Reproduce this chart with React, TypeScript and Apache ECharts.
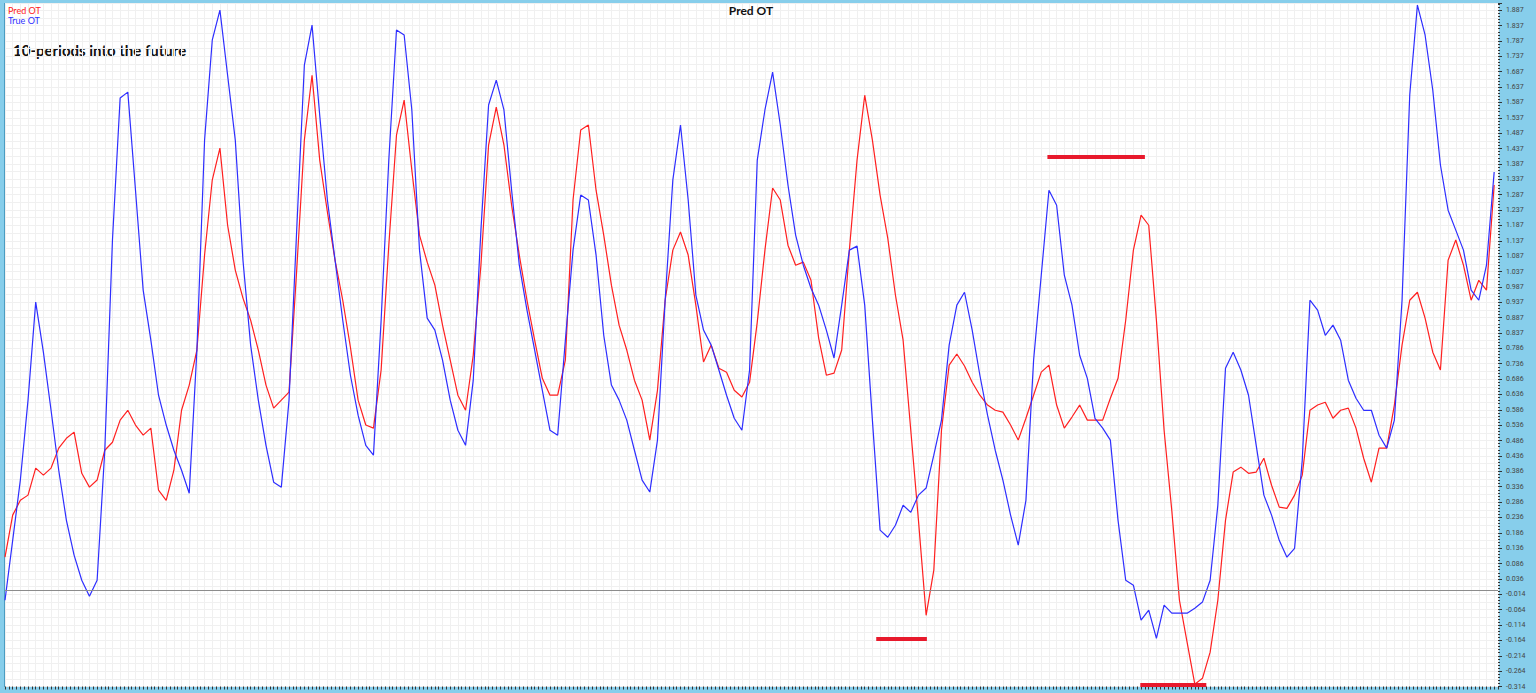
import React, { useEffect, useRef } from "react";
import * as echarts from "echarts";

const trueOT = [
  -0.033, 0.162, 0.358, 0.618, 0.937, 0.774, 0.585, 0.39, 0.227, 0.114,
  0.032, -0.02, 0.032, 0.455, 1.139, 1.601, 1.62, 1.301, 0.976, 0.813,
  0.634, 0.537, 0.455, 0.39, 0.315, 0.781, 1.464, 1.789, 1.887, 1.675,
  1.464, 1.073, 0.797, 0.618, 0.471, 0.351, 0.335, 0.618, 1.171, 1.708,
  1.838, 1.545, 1.269, 1.073, 0.878, 0.699, 0.569, 0.471, 0.439, 0.878,
  1.399, 1.822, 1.806, 1.562, 1.106, 0.885, 0.846, 0.748, 0.618, 0.52,
  0.471, 0.683, 1.171, 1.578, 1.659, 1.562, 1.301, 1.057, 0.911, 0.781,
  0.65, 0.52, 0.504, 0.813, 1.106, 1.285, 1.269, 1.09, 0.829, 0.667,
  0.618, 0.553, 0.455, 0.358, 0.319, 0.488, 0.943, 1.334, 1.513, 1.269,
  0.96, 0.846, 0.797, 0.716, 0.634, 0.559, 0.52, 0.716, 1.399, 1.562,
  1.685, 1.513, 1.318, 1.155, 1.057, 0.982, 0.927, 0.846, 0.755, 0.927,
  1.106, 1.119, 0.927, 0.553, 0.195, 0.172, 0.211, 0.276, 0.253, 0.309,
  0.332, 0.439, 0.553, 0.797, 0.927, 0.969, 0.846, 0.699, 0.569, 0.455,
  0.358, 0.244, 0.146, 0.292, 0.748, 1.025, 1.301, 1.252, 1.025, 0.927,
  0.764, 0.689, 0.559, 0.527, 0.488, 0.227, 0.032, 0.016, -0.098, -0.065,
  -0.157, -0.049, -0.075, -0.075, -0.075, -0.059, -0.039, 0.032, 0.276, 0.722,
  0.774, 0.716, 0.634, 0.471, 0.309, 0.244, 0.162, 0.107, 0.136, 0.423,
  0.943, 0.911, 0.829, 0.862, 0.813, 0.683, 0.624, 0.585, 0.585, 0.504,
  0.462, 0.553, 0.943, 1.61, 1.903, 1.806, 1.627, 1.383, 1.236, 1.171,
  1.106, 0.976, 0.943, 1.057, 1.36,
];

const predOT = [
  0.107, 0.244, 0.292, 0.309, 0.397, 0.374, 0.397, 0.462, 0.494, 0.514,
  0.38, 0.335, 0.358, 0.455, 0.481, 0.553, 0.585, 0.537, 0.504, 0.527,
  0.325, 0.292, 0.39, 0.585, 0.667, 0.781, 1.09, 1.334, 1.438, 1.187,
  1.041, 0.95, 0.878, 0.781, 0.667, 0.592, 0.618, 0.644, 1.041, 1.464,
  1.675, 1.399, 1.23, 1.073, 0.943, 0.79, 0.618, 0.537, 0.527, 0.716,
  1.122, 1.48, 1.594, 1.366, 1.155, 1.067, 0.992, 0.862, 0.748, 0.634,
  0.585, 0.764, 1.057, 1.448, 1.571, 1.448, 1.252, 1.09, 0.943, 0.813,
  0.689, 0.634, 0.634, 0.748, 1.269, 1.497, 1.513, 1.301, 1.155, 0.992,
  0.862, 0.781, 0.683, 0.618, 0.488, 0.65, 0.943, 1.106, 1.165, 1.09,
  0.927, 0.742, 0.797, 0.722, 0.709, 0.65, 0.628, 0.676, 0.872, 1.106,
  1.308, 1.269, 1.122, 1.057, 1.067, 1.008, 0.82, 0.699, 0.706, 0.781,
  1.106, 1.399, 1.61, 1.464, 1.285, 1.145, 0.96, 0.813, 0.52, 0.227,
  -0.082, 0.065, 0.52, 0.732, 0.768, 0.729, 0.676, 0.634, 0.602, 0.585,
  0.579, 0.537, 0.488, 0.559, 0.634, 0.709, 0.732, 0.602, 0.527, 0.563,
  0.602, 0.553, 0.553, 0.553, 0.624, 0.689, 0.878, 1.106, 1.22, 1.187,
  0.878, 0.52, 0.26, -0.033, -0.17, -0.306, -0.287, -0.202, -0.033, 0.227,
  0.384, 0.4, 0.38, 0.384, 0.429, 0.341, 0.27, 0.266, 0.309, 0.374,
  0.585, 0.602, 0.611, 0.559, 0.585, 0.592, 0.527, 0.429, 0.351, 0.462,
  0.462, 0.602, 0.797, 0.943, 0.969, 0.885, 0.774, 0.716, 1.073, 1.139,
  1.057, 0.943, 1.008, 0.976, 1.318,
];

const yTickLabels = [
  "-0.314", "-0.264", "-0.214", "-0.164", "-0.114", "-0.064", "-0.014", "0.036", "0.086",
  "0.136", "0.186", "0.236", "0.286", "0.336", "0.386", "0.436", "0.486", "0.536",
  "0.586", "0.636", "0.686", "0.736", "0.786", "0.837", "0.887", "0.937", "0.987",
  "1.037", "1.087", "1.137", "1.187", "1.237", "1.287", "1.337", "1.387", "1.437",
  "1.487", "1.537", "1.587", "1.637", "1.687", "1.737", "1.787", "1.837", "1.887",
];

const Y_MIN = -0.3136;
const Y_MAX = 1.91;
const Y_STEP = 0.05;
const X_MAX = 194.5;

const seriesNames = ["Pred OT", "True OT"];
const seriesColors = ["#ff2020", "#2e2eff"];

const annotationStart = [135.8, 113.5, 147.9];
const annotationEnd = [148.5, 120.1, 156.5];
const annotationLevel = [1.409, -0.157, -0.3095];

export default function App() {
  const ref = useRef<HTMLDivElement>(null);

  useEffect(() => {
    if (!ref.current) return;
    const chart = echarts.init(ref.current, null, { renderer: "svg" });
    const font = "Lato, 'DejaVu Sans', sans-serif";

    const annotationLines = annotationLevel.map((lv, k) => [
      { coord: [annotationStart[k], lv] },
      { coord: [annotationEnd[k], lv] },
    ]);

    chart.setOption({
      animation: false,
      backgroundColor: "#87CEEB",
      title: {
        text: "Pred OT",
        left: 751,
        top: 4,
        textAlign: "center",
        padding: 0,
        textStyle: { fontFamily: font, fontSize: 12, fontWeight: "bold", color: "#111" },
      },
      legend: {
        orient: "vertical",
        left: 3,
        top: 5,
        padding: 0,
        itemGap: 0,
        itemWidth: 0,
        itemHeight: 10,
        icon: "rect",
        data: seriesNames.map((n, k) => ({ name: n, textStyle: { color: seriesColors[k] } })),
        textStyle: { fontFamily: font, fontSize: 9, lineHeight: 10, padding: 0 },
      },
      graphic: [
        {
          type: "text",
          x: 13,
          y: 50,
          style: {
            text: "10-periods into the future",
            fontFamily: font,
            fontSize: 15,
            fontWeight: "bold",
            fill: "#111",
            verticalAlign: "middle",
          },
        },
        { type: "rect", shape: { x: 4, y: 3, width: 1, height: 684 }, style: { fill: "#4a9cc2" } },
      ],
      grid: {
        left: 5,
        right: 38,
        top: 3,
        bottom: 6.5,
        show: true,
        backgroundColor: "#ffffff",
        borderWidth: 0,
      },
      xAxis: [
        {
          type: "value",
          min: 0,
          max: X_MAX,
          interval: 0.5,
          position: "bottom",
          axisLine: { show: false, onZero: false },
          axisTick: { show: true, length: 3, lineStyle: { color: "#333", width: 1 } },
          axisLabel: { show: false },
          splitLine: { show: false },
        },
        {
          type: "value",
          min: 0,
          max: X_MAX,
          interval: 1,
          position: "bottom",
          axisLine: { show: false, onZero: false },
          axisTick: { show: false },
          axisLabel: { show: false },
          splitLine: { show: true, lineStyle: { color: "#f0f0f0", width: 1 } },
        },
      ],
      yAxis: [
        {
          type: "value",
          position: "right",
          min: Y_MIN,
          max: Y_MAX,
          interval: Y_STEP,
          axisLine: { show: false, onZero: false },
          axisTick: { show: true, length: 4, lineStyle: { color: "#333", width: 1 } },
          minorTick: { show: true, splitNumber: 5, length: 2, lineStyle: { color: "#333", width: 1 } },
          axisLabel: {
            margin: 8,
            fontFamily: "Roboto, sans-serif",
            fontSize: 7,
            color: "#444",
            formatter: (v: number) => {
              const k = Math.round((v - Y_MIN) / Y_STEP);
              if (Math.abs(v - (Y_MIN + k * Y_STEP)) > 0.001) return "";
              return yTickLabels[k] ?? "";
            },
          },
          splitLine: { show: false },
        },
        {
          type: "value",
          position: "right",
          min: Y_MIN,
          max: Y_MAX,
          interval: Y_STEP / 2,
          axisLine: { show: false, onZero: false },
          axisTick: { show: false },
          axisLabel: { show: false },
          splitLine: { show: true, lineStyle: { color: "#f0f0f0", width: 1 } },
        },
      ],
      series: [
        {
          name: seriesNames[0],
          type: "line",
          data: predOT.map((v, i) => [i, v]),
          symbol: "none",
          lineStyle: { color: seriesColors[0], width: 1.2 },
          itemStyle: { color: seriesColors[0] },
          z: 3,
          markLine: {
            silent: true,
            symbol: "none",
            label: { show: false },
            lineStyle: { color: "#e8192c", width: 4, type: "solid" },
            data: annotationLines,
          },
        },
        {
          name: seriesNames[1],
          type: "line",
          data: trueOT.map((v, i) => [i, v]),
          symbol: "none",
          lineStyle: { color: seriesColors[1], width: 1.2 },
          itemStyle: { color: seriesColors[1] },
          z: 4,
          markLine: {
            silent: true,
            symbol: "none",
            label: { show: false },
            lineStyle: { color: "#8c8c8c", width: 1, type: "solid" },
            data: [{ yAxis: 0 }],
          },
        },
      ],
    });

    return () => chart.dispose();
  }, []);

  return (
    <div
      ref={ref}
      style={{ position: "absolute", left: 0, top: 0, width: 1536, height: 693 }}
    />
  );
}
